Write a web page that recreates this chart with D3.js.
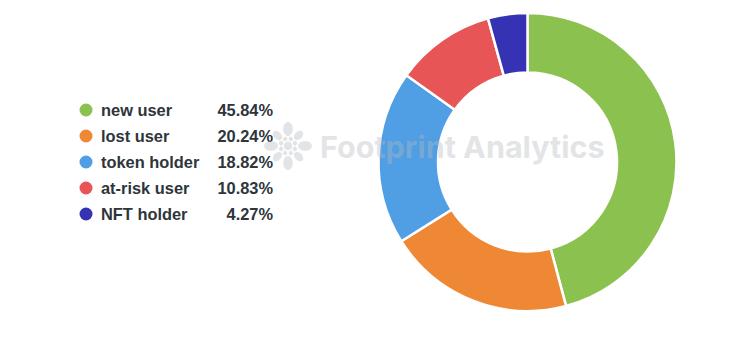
<!DOCTYPE html>
<html><head><meta charset="utf-8">
<script src="https://cdn.jsdelivr.net/npm/d3@7"></script>
<style>body{margin:0;background:#fff;}svg{display:block;font-family:"Liberation Sans",Arial,sans-serif;}</style>
</head><body>
<svg id="c" width="742" height="338"></svg>
<script>
const categories = ["new user", "lost user", "token holder", "at-risk user", "NFT holder"];
const values = [45.84, 20.24, 18.82, 10.83, 4.27];
const colors = ["#8BC14F", "#EE8834", "#509EE3", "#E75557", "#3532B3"];

const svg = d3.select("#c");

// donut
const cx = 527.5, cy = 162, R = 149, r = 89.5;
const pie = d3.pie().sort(null).value(d => d)(values);
const arc = d3.arc().innerRadius(r).outerRadius(R);
svg.append("g").attr("transform", `translate(${cx},${cy})`)
  .selectAll("path").data(pie).join("path")
  .attr("d", arc).attr("fill", (d, i) => colors[i])
  .attr("stroke", "#fff").attr("stroke-width", 2.5).attr("stroke-linejoin", "round");

// legend
const y = d3.scalePoint().domain(categories).range([110, 214]);
const lg = svg.append("g");
categories.forEach((c, i) => {
  const yy = y(c);
  lg.append("circle").attr("cx", 86).attr("cy", yy).attr("r", 6.5).attr("fill", colors[i]);
  lg.append("text").attr("x", 101).attr("y", yy).attr("dy", "0.36em")
    .attr("font-size", 16.4).attr("font-weight", 700).attr("fill", "#2E353B").text(c);
  lg.append("text").attr("x", 273).attr("y", yy).attr("dy", "0.36em").attr("text-anchor", "end")
    .attr("font-size", 16.4).attr("font-weight", 700).attr("fill", "#2E353B").text(values[i].toFixed(2) + "%");
});

// watermark (on top, translucent)
const wm = svg.append("g").attr("fill", "#b4b9bf").attr("opacity", 0.38);
const icx = 288, icy = 146;
for (let k = 0; k < 8; k++) {
  const a = k * 45;
  const big = (k % 2 === 0);
  wm.append("ellipse")
    .attr("transform", `translate(${icx},${icy}) rotate(${a}) translate(0,${big ? -17 : -15})`)
    .attr("rx", big ? 4.8 : 3.8).attr("ry", big ? 7 : 5.4);
}
for (let k = 0; k < 8; k++) {
  wm.append("circle")
    .attr("transform", `translate(${icx},${icy}) rotate(${k * 45 + 22.5}) translate(0,-7.5)`)
    .attr("r", 2.2);
}
wm.append("circle").attr("cx", icx).attr("cy", icy).attr("r", 4.2);
wm.append("text").attr("x", 320).attr("y", 158).attr("font-size", 30.5).attr("font-weight", 700)
  .attr("font-family", "Inter, 'Open Sans', sans-serif").text("Footprint Analytics");
</script>
</body></html>
